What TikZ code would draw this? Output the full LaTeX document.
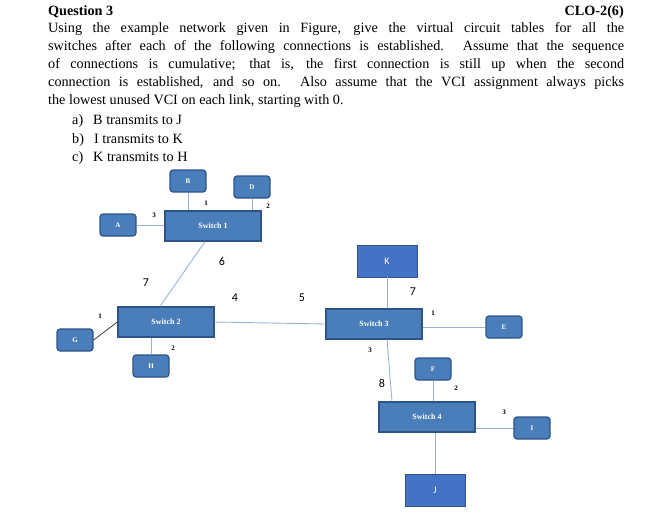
\documentclass[tikz,border=0pt]{standalone}
\usepackage{fontspec}
\setmainfont{Liberation Serif}
\newfontfamily\calib{Carlito}
\usetikzlibrary{positioning}
\definecolor{swfill}{HTML}{4A7EBB}
\definecolor{swdraw}{HTML}{2E5487}
\definecolor{boxfill}{HTML}{4472C4}
\definecolor{boxdraw}{HTML}{2F528F}
\definecolor{linkcol}{HTML}{95B3D7}
\begin{document}
\begin{tikzpicture}[x=1pt,y=-1pt,
                    switchnode/.style={rectangle, draw=swdraw, fill=swfill, line width=1.2pt, minimum width=96pt, minimum height=30pt, text=white, font=\fontsize{8}{9}\selectfont\bfseries},
                    hostnode/.style={rectangle, rounded corners=3pt, draw=swdraw, fill=swfill, line width=1.2pt, minimum width=36pt, minimum height=22pt, text=white, font=\fontsize{7}{8}\selectfont\bfseries},
                    endnode/.style={rectangle, draw=boxdraw, fill=boxfill, line width=0.6pt, minimum width=60pt, minimum height=32pt, text=white, font=\calib\fontsize{10}{12}\selectfont},
                    link/.style={draw=linkcol, line width=0.9pt},
                    port/.style={font=\fontsize{7}{8}\selectfont\bfseries},
                    vci/.style={font=\calib\fontsize{12}{14}\selectfont},
                ]
                    \useasboundingbox (0,0) rectangle (650,516);
                    %Text
                    \node[anchor=west, font=\fontsize{14.2}{16}\selectfont\bfseries, inner sep=0pt](q) at (48,12) {Question 3};
                    \node[anchor=east, font=\fontsize{14.2}{16}\selectfont\bfseries, inner sep=0pt](clo) at (624,12) {CLO-2(6)};
                    \node[anchor=north west, inner sep=0pt, text width=576pt, align=justify, font=\fontsize{14.2}{18.2}\selectfont](para) at (48,22) {Using the example network given in Figure, give the virtual circuit tables for all the\linebreak switches after each of the following connections is established. Assume that the sequence\linebreak of connections is cumulative; that is, the first connection is still up when the second\linebreak connection is established, and so on. Also assume that the VCI assignment always picks\linebreak the lowest unused VCI on each link, starting with 0.};
                    \node[anchor=west, inner sep=0pt, font=\fontsize{14.2}{16}\selectfont](ca) at (72,121) {a)\hspace{10pt}B transmits to J};
                    \node[anchor=west, inner sep=0pt, font=\fontsize{14.2}{16}\selectfont](cb) at (72,140) {b)\hspace{10pt}I transmits to K};
                    \node[anchor=west, inner sep=0pt, font=\fontsize{14.2}{16}\selectfont](cc) at (72,158) {c)\hspace{10pt}K transmits to H};

                    %Nodes
                    \node[switchnode](sw1) at (213,226) {Switch 1};
                    \node[switchnode](sw2) at (166,322) {Switch 2};
                    \node[switchnode](sw3) at (374,324) {Switch 3};
                    \node[switchnode](sw4) at (427,417) {Switch 4};
                    \node[hostnode](b) at (188,181) {B};
                    \node[hostnode](d) at (252,187) {D};
                    \node[hostnode](a) at (118,225) {A};
                    \node[hostnode](g) at (75,340) {G};
                    \node[hostnode](h) at (151,366) {H};
                    \node[hostnode](e) at (504,327) {E};
                    \node[hostnode](f) at (433,369) {F};
                    \node[hostnode](i) at (532,428) {I};
                    \node[endnode](k) at (387,261) {K};
                    \node[endnode](j) at (435,490) {J};
                    \path (sw1.south) ++(-8,0) coordinate(s1s);
                    \path (sw2.north) ++(-6,0) coordinate(s2n);
                    \path (sw3.south) ++(13,0) coordinate(s3s);
                    \path (sw4.north) ++(-35,0) coordinate(s4n);

                    %Lines
                    \draw[link](b) -- (b |- sw1.north);
                    \draw[link](d) -- (d |- sw1.north);
                    \draw[link](a) -- (sw1.west |- a);
                    \draw[link](s1s) -- (s2n);
                    \draw[line width=0.8pt, black!75](sw2.west) -- (g.east);
                    \draw[link](h) -- (h |- sw2.south);
                    \draw[link](sw2.east) -- (sw3.west);
                    \draw[link](k) -- (k |- sw3.north);
                    \draw[link](sw3.east |- e) -- (e);
                    \draw[link](s3s) -- (s4n);
                    \draw[link](f) -- (f |- sw4.north);
                    \draw[link](sw4.east |- i) -- (i);
                    \draw[link](sw4.south -| j) -- (j);

                    %Labels
                    \node[port](p11) at (206,203) {1};
                    \node[port](p12) at (268,206) {2};
                    \node[port](p13) at (154,215) {3};
                    \node[port](p21) at (100,316) {1};
                    \node[port](p22) at (173,348) {2};
                    \node[port](p31) at (433,313) {1};
                    \node[port](p33) at (370,350) {3};
                    \node[port](p42) at (456,388) {2};
                    \node[port](p43) at (504,412) {3};
                    \node[vci](v6) at (222,261) {6};
                    \node[vci](v7a) at (146,283) {7};
                    \node[vci](v4) at (235,298) {4};
                    \node[vci](v5) at (302,298) {5};
                    \node[vci](v7b) at (413,292) {7};
                    \node[vci](v8) at (382,383) {8};
                \end{tikzpicture}
\end{document}
